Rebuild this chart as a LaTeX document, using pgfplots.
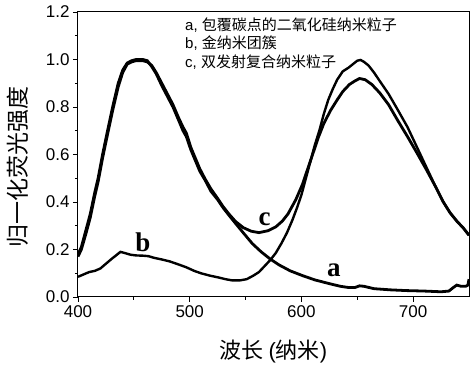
\documentclass[border=0pt]{standalone}
\usepackage{fontspec}
\setmainfont{Liberation Sans}
\newfontfamily\cjk{Noto Sans CJK SC}
\newfontfamily\tnr{Liberation Serif}
\usepackage{pgfplots}
\pgfplotsset{compat=1.18}
\begin{document}
\begin{tikzpicture}
\path[use as bounding box] (-78pt,-69pt) rectangle (396pt,297pt);
\begin{axis}[
  at={(0pt,0pt)}, anchor=south west,
  scale only axis, width=391pt, height=285pt,
  xmin=400, xmax=750, ymin=0, ymax=1.2,
  xtick={400,500,600,700}, ytick={0,0.2,0.4,0.6,0.8,1.0,1.2},
  minor tick num=1,
  tick pos=left, tick align=outside,
  major tick length=5pt, minor tick length=3pt,
  every tick/.style={black, line width=0.8pt},
  axis line style={line width=1pt},
  yticklabel style={/pgf/number format/fixed, /pgf/number format/precision=1, /pgf/number format/fixed zerofill},
  /pgf/number format/assume math mode=true,
  ticklabel style={font=\fontsize{17}{17}\selectfont},
  xlabel={\cjk 波长 {\rmfamily (}纳米{\rmfamily )}},
  xlabel style={at={(axis description cs:0.5,0)}, anchor=center, yshift=-55pt, font=\fontsize{22}{22}\selectfont},
  clip=true,
]
% a: carbon-dot coated silica
\addplot[black, line width=2.8pt] coordinates {
(400,0.18)(403,0.21)(407,0.28)(411,0.35)(415,0.44)(418,0.50)(422,0.60)(426,0.69)
(431,0.80)(436,0.90)(440,0.955)(444,0.985)(448,0.995)(452,1.0)(458,1.0)(462,0.995)
(466,0.97)(470,0.94)(475,0.89)(480,0.845)(485,0.80)(490,0.745)(494,0.70)(497,0.675)
(501,0.62)(505,0.575)(509,0.53)(514,0.49)(519,0.445)(525,0.41)(530,0.375)(535,0.345)
(541,0.31)(548,0.27)(556,0.225)(564,0.19)(572,0.16)(580,0.135)(590,0.11)(601,0.09)
(612,0.072)(626,0.055)(635,0.045)(642,0.04)(648,0.04)(652,0.047)(656,0.045)(665,0.035)
(680,0.03)(694,0.027)(710,0.025)(725,0.022)(732,0.025)(736,0.04)(739,0.05)(743,0.045)
(747,0.045)(749,0.05)(750,0.075)
};
% c: dual-emission composite
\addplot[black, line width=2.8pt] coordinates {
(400,0.17)(403,0.20)(407,0.265)(411,0.335)(415,0.425)(418,0.485)(422,0.585)(426,0.675)
(431,0.785)(436,0.885)(440,0.945)(444,0.98)(448,0.99)(452,0.995)(458,0.995)(462,0.99)
(466,0.975)(470,0.945)(475,0.90)(480,0.855)(485,0.81)(490,0.755)(494,0.715)(497,0.69)
(501,0.63)(505,0.585)(509,0.54)(514,0.495)(519,0.455)(525,0.415)(530,0.38)(535,0.35)
(541,0.318)(548,0.292)(555,0.277)(562,0.271)(570,0.279)(577,0.295)(583,0.32)(588,0.35)
(595,0.41)(601,0.475)(606,0.545)(610,0.60)(615,0.67)(620,0.73)(626,0.785)(632,0.83)
(637,0.865)(643,0.895)(648,0.91)(652,0.92)(657,0.915)(663,0.895)(670,0.86)(678,0.81)
(686,0.745)(695,0.675)(703,0.61)(712,0.535)(720,0.465)(727,0.40)(733,0.355)(739,0.32)
(745,0.29)(750,0.26)
};
% b: gold nanoclusters
\addplot[black, line width=2.4pt] coordinates {
(400,0.085)(405,0.095)(410,0.105)(415,0.11)(420,0.12)(425,0.14)(430,0.16)(434,0.175)
(438,0.19)(442,0.185)(447,0.178)(452,0.175)(458,0.174)(463,0.172)(468,0.165)(475,0.158)
(482,0.15)(490,0.137)(497,0.125)(504,0.11)(510,0.10)(518,0.09)(526,0.082)(532,0.075)
(538,0.07)(545,0.07)(551,0.075)(557,0.09)(562,0.105)(567,0.13)(572,0.155)(577,0.185)
(582,0.225)(587,0.27)(592,0.325)(596,0.375)(600,0.43)(604,0.50)(608,0.57)(612,0.64)
(616,0.70)(620,0.77)(624,0.83)(628,0.875)(632,0.915)(637,0.95)(642,0.965)(646,0.98)
(650,0.995)(653,0.998)(656,0.99)(660,0.975)(665,0.945)(670,0.91)(678,0.855)(686,0.79)
(695,0.715)(703,0.635)(712,0.545)(720,0.465)(727,0.40)(733,0.355)(739,0.32)(745,0.29)
(750,0.26)
};
\node[anchor=base, font=\tnr\bfseries\fontsize{27}{27}\selectfont] at (axis cs:458,0.19) {b};
\node[anchor=base, font=\tnr\bfseries\fontsize{27}{27}\selectfont] at (axis cs:567,0.30) {c};
\node[anchor=base, font=\tnr\bfseries\fontsize{27}{27}\selectfont] at (axis cs:629,0.085) {a};
\node[anchor=west, inner sep=0pt, font=\fontsize{15}{15}\selectfont] at (axis cs:495.8,1.145) {a, {\cjk 包覆碳点的二氧化硅纳米粒子}};
\node[anchor=west, inner sep=0pt, font=\fontsize{15}{15}\selectfont] at (axis cs:495.8,1.069) {b, {\cjk 金纳米团簇}};
\node[anchor=west, inner sep=0pt, font=\fontsize{15}{15}\selectfont] at (axis cs:495.8,0.989) {c, {\cjk 双发射复合纳米粒子}};
\end{axis}
\node[rotate=90, anchor=center, font=\cjk\fontsize{23}{23}\selectfont] at (-60pt,130pt) {归一化荧光强度};
\end{tikzpicture}
\end{document}
